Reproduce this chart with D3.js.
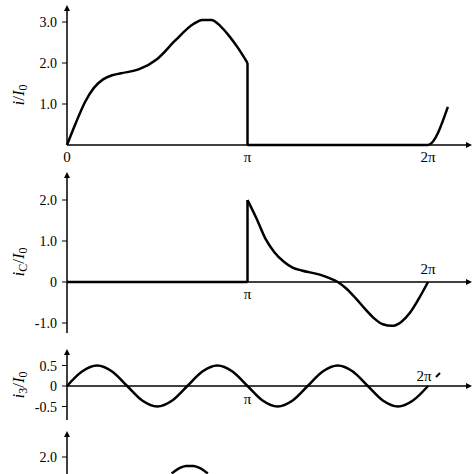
<!DOCTYPE html>
<html><head><meta charset="utf-8">
<script src="https://cdn.jsdelivr.net/npm/d3@7"></script>
<style>body{margin:0;background:#fff}</style></head>
<body><svg id="c" width="474" height="474"></svg>
<script>
// x values in units of π
const p1X=[0,0.05,0.1,0.15,0.2,0.25,0.3,0.4,0.5,0.6,0.7,0.75,0.8,0.85,0.9,0.95,1.0,1.0,2.0,2.11];
const p1Y=[0,0.55,1.05,1.4,1.6,1.7,1.75,1.85,2.1,2.55,2.95,3.05,3.05,2.9,2.65,2.35,2.0,0,0,0.93];
const p2X=[0,1.0,1.0,1.05,1.1,1.15,1.2,1.25,1.3,1.4,1.45,1.5,1.55,1.6,1.65,1.7,1.75,1.8,1.85,1.9,1.95,2.0];
const p2Y=[0,0,2.0,1.55,1.05,0.72,0.5,0.35,0.28,0.18,0.1,0,-0.17,-0.4,-0.65,-0.88,-1.03,-1.07,-0.98,-0.75,-0.4,0];
const p3X=[0,0.0833,0.1667,0.25,0.3333,0.4167,0.5,0.5833,0.6667,0.75,0.8333,0.9167,1.0,1.0833,1.1667,1.25,1.3333,1.4167,1.5,1.5833,1.6667,1.75,1.8333,1.9167,2.0];
const p3Y=[0,0.354,0.5,0.354,0,-0.354,-0.5,-0.354,0,0.354,0.5,0.354,0,-0.354,-0.5,-0.354,0,0.354,0.5,0.354,0,-0.354,-0.5,-0.354,0];
const p4X=[0.58,0.62,0.66,0.7,0.74,0.78];
const p4Y=[1.6,1.72,1.78,1.78,1.72,1.6];
const p1Ticks=[1,2,3], p2Ticks=[2,1,0,-1], p3Ticks=[0.5,0,-0.5], p4Ticks=[2];

const svg=d3.select("#c");
const x=d3.scaleLinear().domain([0,2]).range([67,428]);
const font="'Liberation Serif','Times New Roman',serif";
function panel(o){
  const y=d3.scaleLinear().domain([0,1]).range([o.zero,o.zero-41]);
  const g=svg.append("g");
  g.append("line").attr("x1",67).attr("x2",466).attr("y1",o.zero).attr("y2",o.zero).attr("stroke","#000").attr("stroke-width",1.5);
  g.append("path").attr("d",`M466,${o.zero-3}L472,${o.zero}L466,${o.zero+3}Z`);
  g.append("line").attr("x1",67).attr("x2",67).attr("y1",o.top+4).attr("y2",o.bot).attr("stroke","#000").attr("stroke-width",1.5);
  g.append("path").attr("d",`M64,${o.top+6}L67,${o.top}L70,${o.top+6}Z`);
  o.ticks.forEach(t=>{
    g.append("line").attr("x1",62).attr("x2",67).attr("y1",y(t)).attr("y2",y(t)).attr("stroke","#000");
    g.append("text").attr("x",57).attr("y",y(t)+5).attr("text-anchor","end").attr("font-family",font).attr("font-size",14).text(o.fmt(t));
  });
  if(o.data){
    const line=d3.line().x(d=>x(d[0])).y(d=>y(d[1])).curve(d3.curveMonotoneX);
    const pts=o.data[0].map((v,i)=>[v,o.data[1][i]]);
    // split at vertical jumps
    let segs=[[pts[0]]];
    for(let i=1;i<pts.length;i++){
      if(pts[i][0]===pts[i-1][0]){segs.push([pts[i-1],pts[i]]);segs.push([pts[i]]);}
      else segs[segs.length-1].push(pts[i]);
    }
    segs.forEach(s=>{ if(s.length>1) g.append("path").attr("d",line(s)).attr("fill","none").attr("stroke","#000").attr("stroke-width",2.5);});
  }
  if(o.label){
    const t=g.append("text").attr("transform",`translate(24,${o.ly}) rotate(-90)`).attr("text-anchor","middle").attr("font-family",font).attr("font-size",17);
    t.append("tspan").attr("font-style","italic").text("i");
    if(o.sub) t.append("tspan").attr("font-size",12).attr("dy",3).text(o.sub);
    t.append("tspan").attr("dy",o.sub?-3:0).text("/");
    t.append("tspan").attr("font-style","italic").text("I");
    t.append("tspan").attr("font-size",12).attr("dy",3).text("0");
  }
  return y;
}
const fmt1=t=>t===0?"0":t.toFixed(1);
panel({zero:145,top:5,bot:145,ticks:p1Ticks,fmt:fmt1,data:[p1X,p1Y],label:true,sub:"",ly:95});
panel({zero:282,top:172,bot:333,ticks:p2Ticks,fmt:fmt1,data:[p2X,p2Y],label:true,sub:"C",ly:262});
panel({zero:386,top:349,bot:420,ticks:p3Ticks,fmt:fmt1,data:[p3X,p3Y],label:true,sub:"3",ly:385});
panel({zero:539,top:431,bot:540,ticks:p4Ticks,fmt:fmt1,data:[p4X,p4Y],label:false});
function lab(t,px,py){svg.append("text").attr("x",px).attr("y",py).attr("text-anchor","middle").attr("font-family",font).attr("font-size",15).text(t);}
lab("0",x(0),162);lab("π",x(1),162);lab("2π",x(2),162);
lab("π",x(1),299);lab("2π",x(2),274);
lab("π",x(1),404);lab("2π",x(2)-4,381);
svg.append("line").attr("x1",436).attr("y1",377).attr("x2",440).attr("y2",373).attr("stroke","#000").attr("stroke-width",2);
</script></body></html>
